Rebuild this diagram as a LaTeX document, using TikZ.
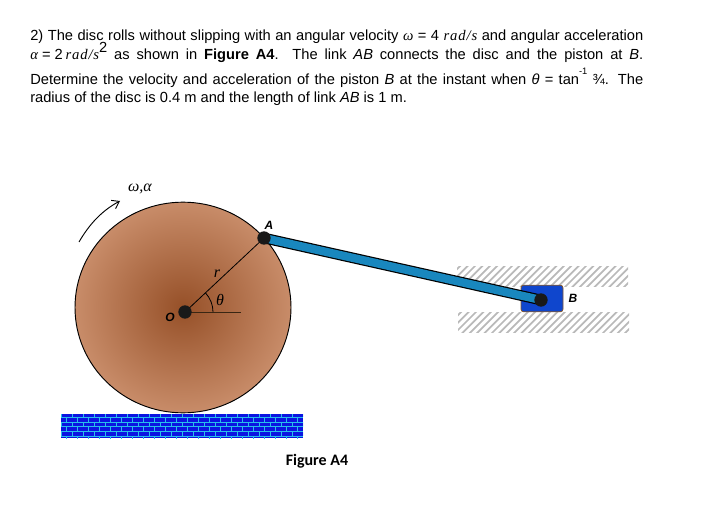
\documentclass[tikz,border=0pt]{standalone}
\usepackage{fontspec}
\setmainfont{Liberation Sans}
\newfontfamily\serifmath{Liberation Serif}
\newfontfamily\unitfont[LetterSpace=6]{Liberation Serif}
\newfontfamily\figfont{Carlito}
\usetikzlibrary{positioning}
\usetikzlibrary{calc,arrows.meta,shapes.geometric}
\definecolor{discin}{RGB}{150,80,40}
\definecolor{discout}{RGB}{200,140,105}
\definecolor{linkblue}{RGB}{25,135,190}
\definecolor{blockblue}{RGB}{15,70,205}
\definecolor{brickblue}{RGB}{10,20,225}
\definecolor{brickline}{RGB}{40,190,235}
\tikzset{
  textline/.style={anchor=base west,inner sep=0pt,font=\fontsize{11}{12}\selectfont},
  pindot/.style={circle,fill=black!90,inner sep=0pt,minimum size=10pt},
  ptlabel/.style={font=\fontsize{9}{10}\selectfont\bfseries\itshape,inner sep=0pt},
  mathlabel/.style={font=\fontsize{12}{13}\serifmath\itshape,inner sep=0pt},
  hatchline/.style={gray!55,line width=1.3pt}
}
\newcommand{\rowwidth}{459.75pt}
\newcommand{\mm}[1]{{\unitfont\itshape #1}}
\begin{document}
\begin{tikzpicture}[x=0.75pt,y=-0.75pt]
  \useasboundingbox (0,0) rectangle (707,506);

  % statement
  \node (line1) [textline] at (30,41) {\makebox[\rowwidth][s]{2) The disc rolls without slipping with an angular velocity \mm{ω} = 4 \mm{rad/s} and angular acceleration}};
  \node (line2) [textline] at (30,59.5) {\makebox[\rowwidth][s]{\mbox{\mm{α} = 2\kern2pt\mm{rad/s}\raisebox{5pt}{2}} as shown in \textbf{Figure A4}. The link \textit{AB} connects the disc and the piston at \textit{B}.}};
  \node (line3) [textline] at (30,84.5) {\makebox[\rowwidth][s]{Determine the velocity and acceleration of the piston \textit{B} at the instant when \textit{θ} = tan\raisebox{7.5pt}{\fontsize{7}{8}\selectfont -1} ¾. The}};
  \node (line4) [textline] at (30,103) {radius of the disc is 0.4 m and the length of link \textit{AB} is 1 m.};

  % ground
  \begin{scope}
    \clip (61,414) rectangle (303,438);
    \fill[brickblue] (61,414) rectangle (303,438);
    \foreach \row in {0,...,5} {
      \draw[brickline,line width=0.5pt] (61,{414+3+\row*4.85}) -- (303,{414+3+\row*4.85});
      \foreach \col in {0,...,22} {
        \draw[brickline,line width=0.5pt] ({61+\col*11+mod(\row,2)*5.5},{414+3+(\row-1)*4.85}) -- ++(0,4.85);
      }
    }
  \end{scope}

  % disc
  \node (disc) [ellipse,draw=black,line width=0.7pt,inner sep=0pt,minimum width=162pt,minimum height=158pt,
    inner color=discin,outer color=discout] at (183,307.5) {};
  \coordinate (Omid) at (185,312);
  \coordinate (Aend) at (264,238);
  \coordinate (Bend) at (541,300);

  % guides
  \begin{scope}
    \clip (457,266) rectangle (628,286);
    \foreach \k in {-3,...,24} \draw[hatchline] ({457+\k*7.4-6},290) -- ++(28,-28);
  \end{scope}
  \begin{scope}
    \clip (458,312) rectangle (629,332);
    \foreach \k in {-3,...,24} \draw[hatchline] ({458+\k*7.4-6},336) -- ++(28,-28);
  \end{scope}

  % piston
  \node (piston) [draw=brown!70!black,line width=0.6pt,fill=blockblue,rounded corners=2pt,inner sep=0pt,minimum width=31.5pt,minimum height=20pt] at (542,298.5) {};

  % link
  \draw[black,line width=8pt] (Aend) -- (Bend);
  \draw[linkblue,line width=6.2pt] (Aend) -- (Bend);

  % radius and angle
  \draw[line width=0.6pt] (Omid) -- (Aend);
  \coordinate (Oref) at (241,312);
  \draw[black!70!brown,line width=0.7pt] (Omid) -- (Oref);
  \draw[line width=0.6pt] ($(Omid)+(28,0)$) arc[start angle=0,end angle=-43,radius=28];

  \node (O) [pindot] at (Omid) {};
  \node (A) [pindot] at (Aend) {};
  \node (B) [pindot] at (Bend) {};

  % labels
  \node (Olabel) [ptlabel] at (170,317) {O};
  \node (Alabel) [ptlabel] at (269,225) {A};
  \node (Blabel) [ptlabel] at (573,298) {B};
  \node (rlabel) [mathlabel] at (217,274) {r};
  \node (thlabel) [mathlabel] at (220,300) {θ};
  \node (omlabel) [mathlabel] at (140,189) {ω,α};
  \node (figlabel) [inner sep=0pt,font=\fontsize{12}{13}\figfont\bfseries] at (317,461) {Figure A4};

  % rotation arrow
  \coordinate (arrstart) at (79,242);
  \coordinate (arrend) at (120,201);
  \draw[line width=0.7pt,-{Straight Barb[length=5pt,width=7pt]}] (arrstart) .. controls (90,223) and (103,210) .. (arrend);
\end{tikzpicture}
\end{document}
